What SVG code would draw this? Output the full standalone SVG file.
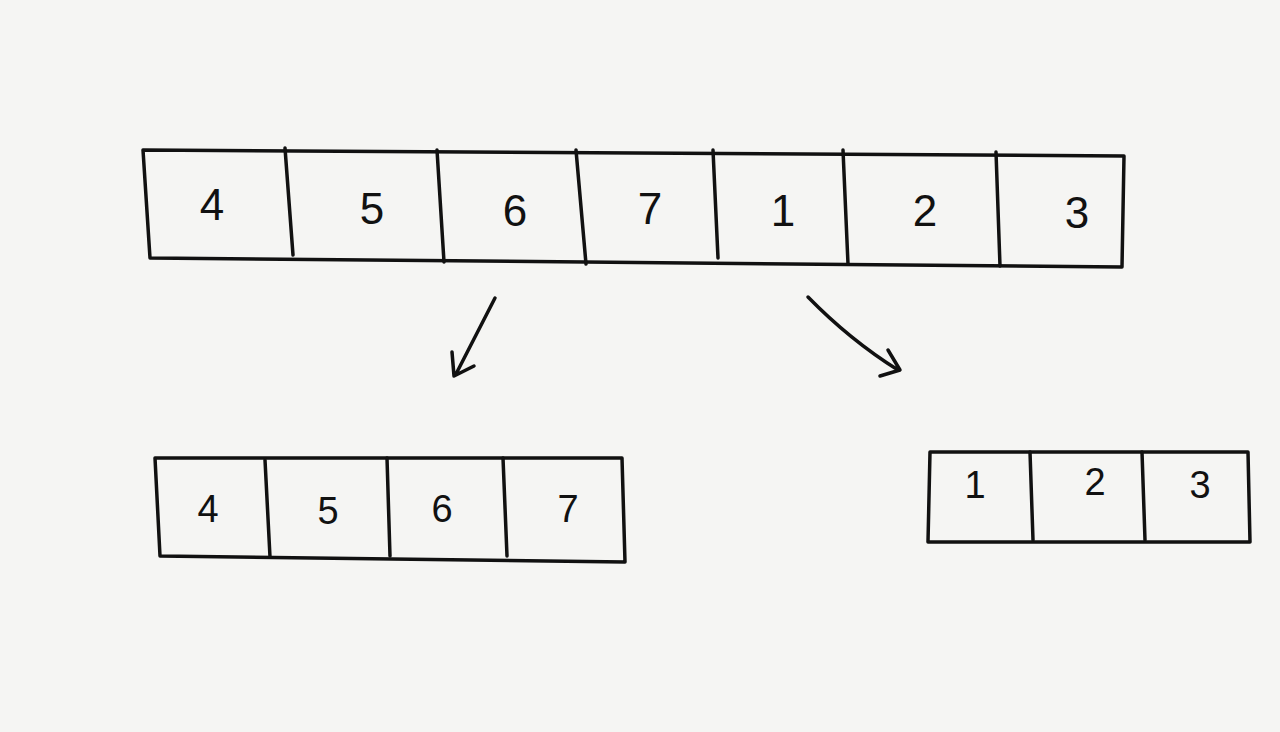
<svg xmlns="http://www.w3.org/2000/svg" width="1280" height="732" viewBox="0 0 1280 732">
<style>
.b{fill:none;stroke:#111;stroke-width:3.5;stroke-linecap:round;stroke-linejoin:round}
.t{font-family:"Liberation Sans",Arial,sans-serif;font-size:44px;fill:#111;text-anchor:middle}
.s{font-size:38px}
</style>
<rect width="1280" height="732" fill="#f5f5f3"/>
<g id="top">
<path class="b" d="M143,150 L1124,156 L1122,267 L150,258 Z"/>
<path class="b" d="M285,148 L293,255 M437,150 L444,262 M576,150 L586,264 M713,150 L718,258 M843,150 L848,264 M996,152 L1000,266"/>
<text class="t" x="212" y="220">4</text>
<text class="t" x="372" y="224">5</text>
<text class="t" x="515" y="226">6</text>
<text class="t" x="650" y="224">7</text>
<text class="t" x="783" y="226">1</text>
<text class="t" x="925" y="226">2</text>
<text class="t" x="1077" y="228">3</text>
</g>
<g id="left">
<path class="b" d="M155,458 L622,458 L625,562 L160,556 Z"/>
<path class="b" d="M265,460 L270,557 M387,458 L390,556 M503,458 L507,556"/>
<text class="t s" x="208" y="522">4</text>
<text class="t s" x="328" y="524">5</text>
<text class="t s" x="442" y="522">6</text>
<text class="t s" x="568" y="522">7</text>
</g>
<g id="right">
<path class="b" d="M930,452 L1248,452 L1250,542 L928,542 Z"/>
<path class="b" d="M1030,452 L1033,540 M1142,452 L1145,540"/>
<text class="t s" x="975" y="498">1</text>
<text class="t s" x="1095" y="495">2</text>
<text class="t s" x="1200" y="498">3</text>
</g>
<g id="connectors">
<path class="b" d="M495,298 L456,374 M452,352 L454,376 L474,366"/>
<path class="b" d="M808,297 Q850,340 898,370 M888,350 L900,370 L880,376"/>
</g>
</svg>
